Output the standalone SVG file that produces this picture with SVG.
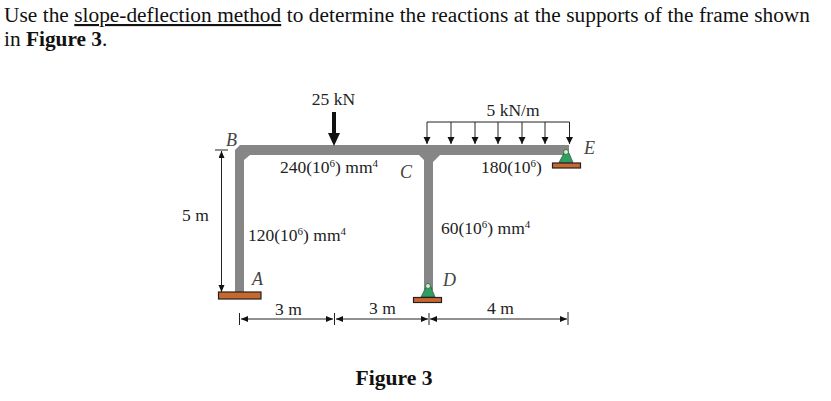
<svg xmlns="http://www.w3.org/2000/svg" width="831" height="401" viewBox="0 0 831 401">
<style>
text{font-family:"Liberation Serif","Times New Roman",serif;fill:#222}
.h{font-size:21.33px;fill:#111}
.l{font-size:17.5px}
.i{font-size:18px;font-style:italic;fill:#444}
.s{font-size:11px}
.d{stroke:#222;stroke-width:1;fill:none}
.base{fill:#c8682f;stroke:#222;stroke-width:1.2}
.tri{fill:#2f9e63;stroke:#333;stroke-width:.6}
.pin{fill:#d8f0c8;stroke:#2f7a50;stroke-width:1}
</style>
<defs>
<marker id="a" markerWidth="8" markerHeight="7" refX="7" refY="3" orient="auto-start-reverse" markerUnits="userSpaceOnUse"><path d="M0 0L7 3L0 6Z" fill="#111"/></marker>
<marker id="u" markerWidth="8" markerHeight="8" refX="7" refY="3.500" orient="auto" markerUnits="userSpaceOnUse"><path d="M0 0L7 3.500L0 7Z" fill="#111"/></marker>
</defs>
<rect width="831" height="401" fill="#fff"/>
<g id="heading">
<text class="h" x="4" y="22" word-spacing="0.2">Use the <tspan text-decoration="underline">slope-deflection method</tspan> to determine the reactions at the supports of the frame shown</text>
<text class="h" x="4" y="46">in <tspan font-weight="bold">Figure 3</tspan>.</text>
</g>
<g id="frame">
<path fill="#868686" d="M235 150L240 145H569V155H440L433 162V290H424V160L419 155H250L244 160V292H235Z"/>
</g>
<g id="connectors">
<path d="M334 112V134" stroke="#111" stroke-width="4" fill="none"/>
<path d="M328 133H340L334 146Z" fill="#111"/>
<path class="d" d="M427 122H569.500"/>
<g id="udl-arrows" class="d">
<path d="M427 122V144" marker-end="url(#u)"/><path d="M451 122V144" marker-end="url(#u)"/><path d="M475 122V144" marker-end="url(#u)"/><path d="M498 122V144" marker-end="url(#u)"/><path d="M522 122V144" marker-end="url(#u)"/><path d="M545 122V144" marker-end="url(#u)"/><path d="M569.500 122V144" marker-end="url(#u)"/>
</g>
<path class="d" d="M215 150H228"/>
<path class="d" d="M221.500 151V292" marker-start="url(#a)" marker-end="url(#a)"/>
<path class="d" d="M239.500 313V325M334.500 313V325M429 313V325M568 312V325"/>
<path class="d" d="M241 319H333" marker-start="url(#a)" marker-end="url(#a)"/>
<path class="d" d="M336 319H428" marker-start="url(#a)" marker-end="url(#a)"/>
<path class="d" d="M430 319H567" marker-start="url(#a)" marker-end="url(#a)"/>
</g>
<g id="support-A"><rect class="base" x="218.500" y="292" width="42.500" height="7"/></g>
<g id="support-D">
<path class="tri" d="M426 287H431L435 297H421Z"/>
<circle class="pin" cx="428" cy="286" r="2.500"/>
<rect class="base" x="413.500" y="297.500" width="28" height="5"/>
</g>
<g id="support-E">
<path class="tri" d="M564 153H569L573 162.500H559Z"/>
<circle class="pin" cx="566" cy="152" r="2.500"/>
<rect class="base" x="552.500" y="163" width="28" height="5"/>
</g>
<g id="labels">
<text class="l" x="333.500" y="105" text-anchor="middle">25 kN</text>
<text class="l" x="513" y="116" text-anchor="middle">5 kN/m</text>
<text class="i" x="226" y="146">B</text>
<text class="i" x="400" y="178">C</text>
<text class="i" x="584" y="154">E</text>
<text class="i" x="252" y="285">A</text>
<text class="i" x="443" y="286">D</text>
<text class="l" x="280" y="173">240(10<tspan class="s" dy="-6">6</tspan><tspan dy="6">) mm</tspan><tspan class="s" dy="-6">4</tspan></text>
<text class="l" x="481" y="173">180(10<tspan class="s" dy="-6">6</tspan><tspan dy="6">)</tspan></text>
<text class="l" x="248" y="241">120(10<tspan class="s" dy="-6">6</tspan><tspan dy="6">) mm</tspan><tspan class="s" dy="-6">4</tspan></text>
<text class="l" x="441" y="234">60(10<tspan class="s" dy="-6">6</tspan><tspan dy="6">) mm</tspan><tspan class="s" dy="-6">4</tspan></text>
<text class="l" x="182" y="221">5 m</text>
<text class="l" x="275" y="315">3 m</text>
<text class="l" x="369" y="314">3 m</text>
<text class="l" x="487" y="314">4 m</text>
<text x="394" y="385" text-anchor="middle" font-size="21.600" font-weight="bold" style="fill:#111">Figure 3</text>
</g>
</svg>
